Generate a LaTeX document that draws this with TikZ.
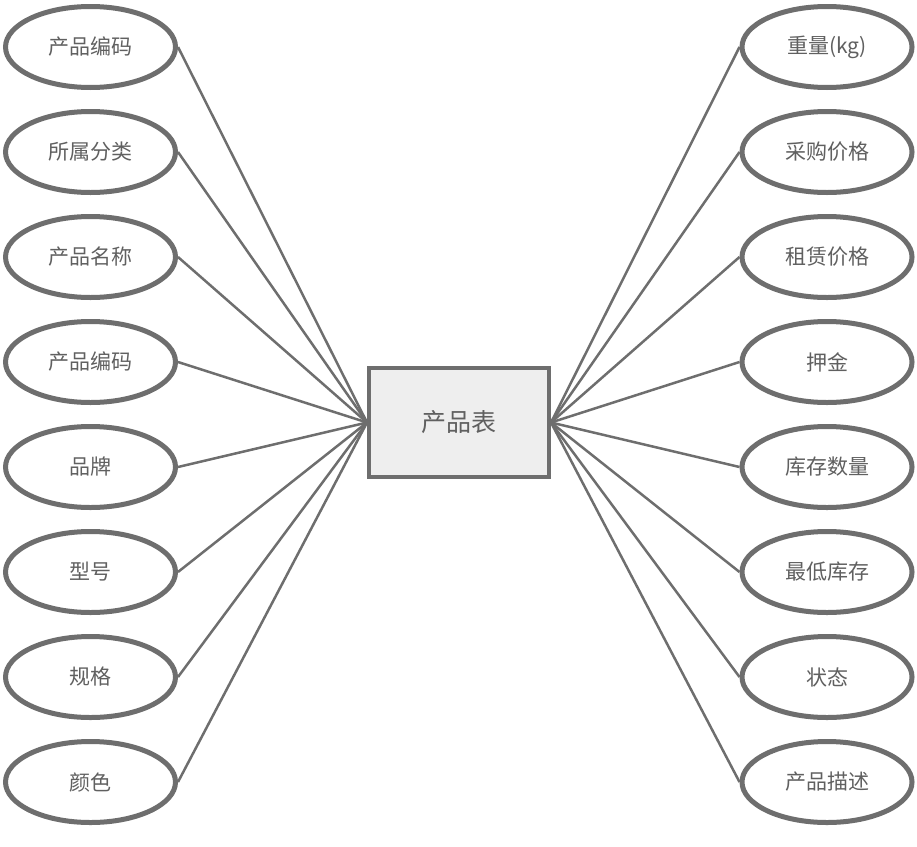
\documentclass[tikz,border=0pt]{standalone}
\usepackage{fontspec}
\newfontfamily\cjk{Noto Sans CJK SC}
\usetikzlibrary{shapes.geometric,positioning}
\definecolor{linegray}{HTML}{6E6E6E}
\definecolor{textgray}{HTML}{606060}
\definecolor{boxfill}{HTML}{EEEEEE}

\begin{document}
\begin{tikzpicture}[
  x=1pt, y=-1pt,
  font=\cjk\fontsize{21}{24}\selectfont,
  attr/.style={draw=linegray, line width=5pt, ellipse, fill=white, text=textgray,
    minimum width=170pt, minimum height=81pt, inner sep=0pt},
  entity/.style={draw=linegray, line width=4pt, fill=boxfill, text=textgray,
    minimum width=180pt, minimum height=109pt, inner sep=0pt,
    font=\cjk\fontsize{25}{28}\selectfont},
  link/.style={draw=linegray, line width=2.5pt}
]
\useasboundingbox (0,0) rectangle (917,846);
\node[entity] (tbl) at (459,422.5) {产品表};
% left attributes
\node[attr] (l1) at (90.5,47) {产品编码};
\node[attr] (l2) at (90.5,152) {所属分类};
\node[attr] (l3) at (90.5,257) {产品名称};
\node[attr] (l4) at (90.5,362) {产品编码};
\node[attr] (l5) at (90.5,467) {品牌};
\node[attr] (l6) at (90.5,572) {型号};
\node[attr] (l7) at (90.5,677) {规格};
\node[attr] (l8) at (90.5,782) {颜色};
% right attributes
\node[attr] (r1) at (827,47) {重量(kg)};
\node[attr] (r2) at (827,152) {采购价格};
\node[attr] (r3) at (827,257) {租赁价格};
\node[attr] (r4) at (827,362) {押金};
\node[attr] (r5) at (827,467) {库存数量};
\node[attr] (r6) at (827,572) {最低库存};
\node[attr] (r7) at (827,677) {状态};
\node[attr] (r8) at (827,782) {产品描述};
\foreach \i in {1,...,8} {
  \draw[link] (l\i.east) -- (tbl.west);
  \draw[link] (r\i.west) -- (tbl.east);
}
\end{tikzpicture}
\end{document}
